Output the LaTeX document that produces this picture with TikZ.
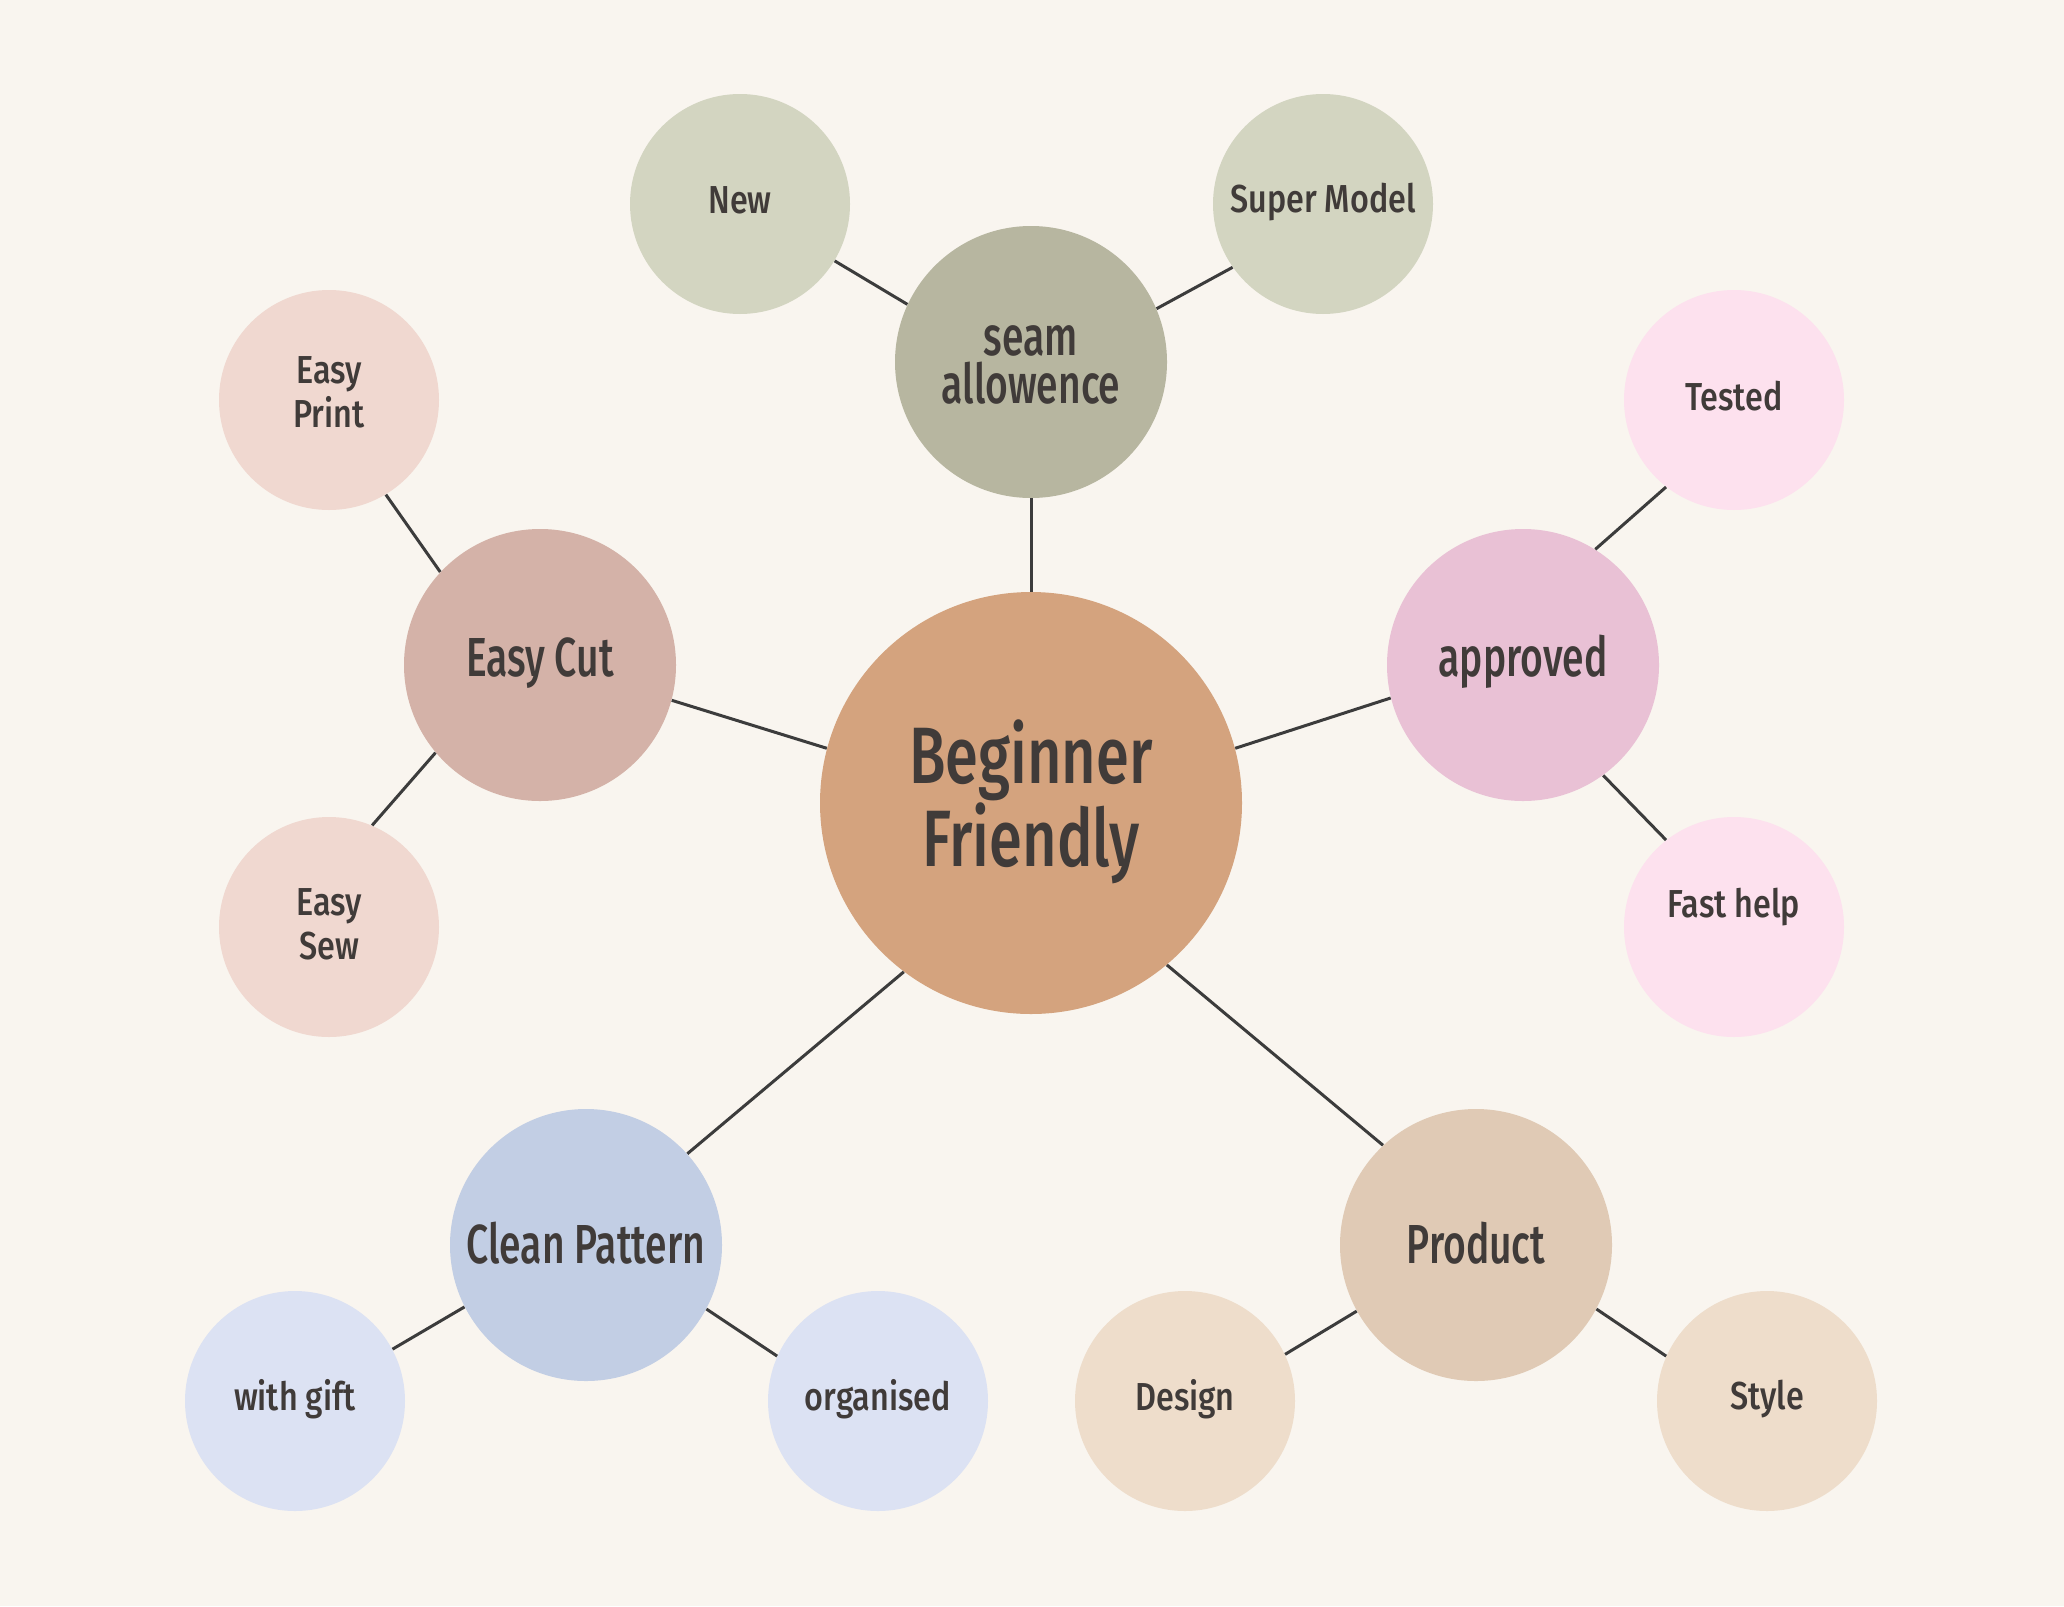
\documentclass[tikz,border=0pt]{standalone}
\usepackage{fontspec}
\setmainfont{Fira Sans}[UprightFont=* Medium]
\newfontfamily\bigfont{Fira Sans}[UprightFont=* Medium,FakeStretch=0.745]
\newfontfamily\midfont{Fira Sans}[UprightFont=* Medium,FakeStretch=0.71]
\newfontfamily\smallfont{Fira Sans}[UprightFont=* Medium,FakeStretch=0.83]
\definecolor{bg}{HTML}{F9F5EF}
\definecolor{cCenter}{HTML}{D4A37E}
\definecolor{cSeam}{HTML}{B7B6A0}
\definecolor{cSeamL}{HTML}{D3D5C1}
\definecolor{cCut}{HTML}{D4B2A8}
\definecolor{cCutL}{HTML}{F0D8D0}
\definecolor{cAppr}{HTML}{E9C1D5}
\definecolor{cApprL}{HTML}{FDE1EE}
\definecolor{cClean}{HTML}{C2CEE4}
\definecolor{cCleanL}{HTML}{DCE2F3}
\definecolor{cProd}{HTML}{E0CAB5}
\definecolor{cProdL}{HTML}{EEDDCB}
\definecolor{txt}{HTML}{403B39}
\definecolor{ln}{HTML}{3C3C3C}
\begin{document}
\begin{tikzpicture}[x=0.5pt,y=-0.5pt,
  bubble/.style={circle,inner sep=0pt},
  lbl/.style={text=txt,align=center,inner sep=0pt},
  bigb/.style={bubble,minimum size=211pt},
  midb/.style={bubble,minimum size=136pt},
  smallb/.style={bubble,minimum size=110pt},
  bigt/.style={lbl,yshift=0.5pt,font=\bigfont\fontsize{40}{36}\selectfont},
  midt/.style={lbl,yshift=0.8pt,font=\midfont\fontsize{27.5}{24}\selectfont},
  smallt/.style={lbl,yshift=1pt,font=\smallfont\fontsize{19.5}{22}\selectfont},
  smallt2/.style={smallt,yshift=3pt},
  link/.style={draw=ln,line width=1.5pt}]
\fill[bg] (0,0) rectangle (2064,1606);
\node[bigb,fill=cCenter,label={[bigt]center:Beginner\\Friendly}] (center) at (1031,803) {};
\node[midb,fill=cSeam,label={[midt,yshift=-2.3pt]center:seam\\allowence}] (seam) at (1031,362) {};
\node[smallb,fill=cSeamL,label={[smallt,yshift=1pt]center:New}] (new) at (740,204) {};
\node[smallb,fill=cSeamL,label={[smallt]center:Super Model}] (super) at (1323,204) {};
\node[midb,fill=cCut,label={[midt]center:Easy Cut}] (cut) at (540,665) {};
\node[smallb,fill=cCutL,label={[smallt2]center:Easy\\Print}] (print) at (329,400) {};
\node[smallb,fill=cCutL,label={[smallt,yshift=0.5pt]center:Easy\\Sew}] (sew) at (329,927) {};
\node[midb,fill=cAppr,label={[midt,yshift=1pt]center:approved}] (appr) at (1523,665) {};
\node[smallb,fill=cApprL,label={[smallt,yshift=1pt]center:Tested}] (tested) at (1734,400) {};
\node[smallb,fill=cApprL,label={[smallt,yshift=9pt]center:Fast help}] (fast) at (1734,927) {};
\node[midb,fill=cClean,label={[midt]center:Clean Pattern}] (clean) at (586,1245) {};
\node[smallb,fill=cCleanL,label={[smallt]center:with gift}] (gift) at (295,1401) {};
\node[smallb,fill=cCleanL,label={[smallt]center:organised}] (org) at (878,1401) {};
\node[midb,fill=cProd,label={[midt]center:Product}] (prod) at (1476,1245) {};
\node[smallb,fill=cProdL,label={[smallt]center:Design}] (design) at (1185,1401) {};
\node[smallb,fill=cProdL,label={[smallt]center:Style}] (style) at (1767,1401) {};
\draw[link] (center.90) -- (seam.270);
\draw[link] (seam.155) -- (new.-31);
\draw[link] (seam.23) -- (super.215);
\draw[link] (center.165.5) -- (cut.-15.6);
\draw[link] (cut.137) -- (print.-59);
\draw[link] (cut.220) -- (sew.67);
\draw[link] (center.15) -- (appr.194);
\draw[link] (appr.58) -- (tested.232);
\draw[link] (appr.-54) -- (fast.128);
\draw[link] (center.233.5) -- (clean.42.4);
\draw[link] (clean.207.3) -- (gift.28);
\draw[link] (clean.-28.3) -- (org.156);
\draw[link] (center.-50.5) -- (prod.133.2);
\draw[link] (prod.209.7) -- (design.25);
\draw[link] (prod.-28.5) -- (style.156);
\end{tikzpicture}
\end{document}
